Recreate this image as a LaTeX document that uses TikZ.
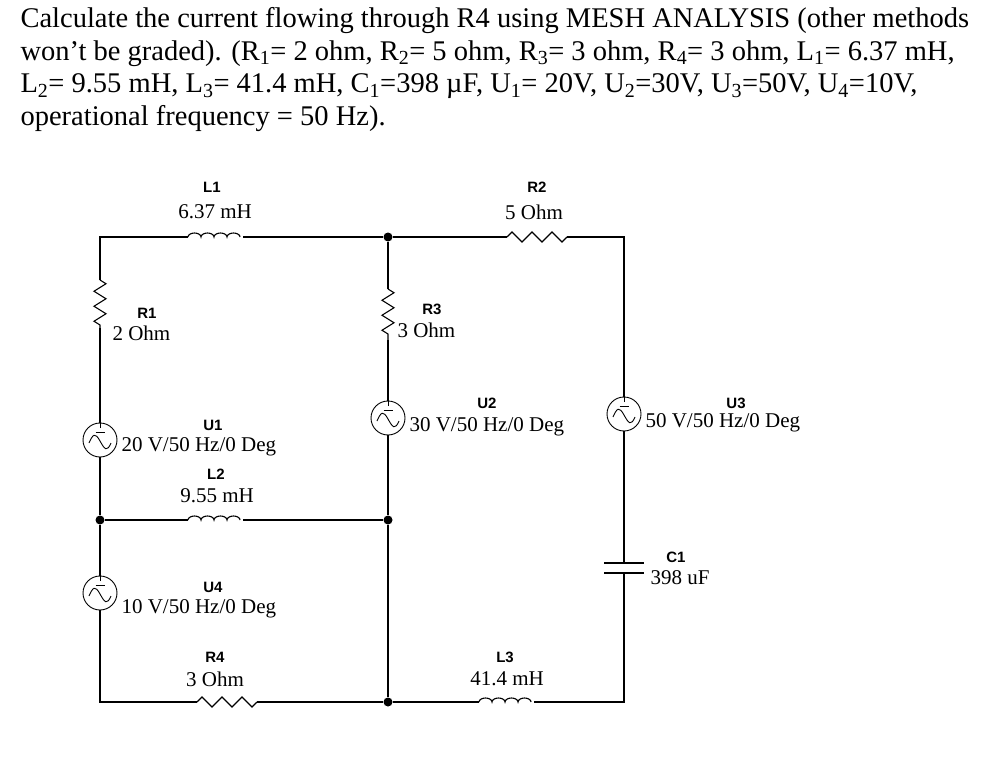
\documentclass[tikz,border=0pt]{standalone}
\usepackage{fontspec}
\setmainfont{Liberation Serif}
\newfontfamily\lab{Liberation Sans}
\usetikzlibrary{decorations.pathmorphing}
\begin{document}
\begin{tikzpicture}[x=1pt,y=-1pt,line width=1.1pt,
  lbl/.style={font=\lab\bfseries\fontsize{15}{17}\selectfont,inner sep=0},
  val/.style={font=\fontsize{21}{24}\selectfont,inner sep=0},
  src/.style={circle,draw,line width=0.9pt,minimum size=34pt,inner sep=0},
  dot/.style={circle,fill,minimum size=9pt,inner sep=0},
  res/.style={decorate,decoration={zigzag,segment length=15pt,amplitude=6pt}},
  hres/.style={decorate,decoration={zigzag,segment length=20pt,amplitude=5pt}}]
\useasboundingbox (0,0) rectangle (1007,781);
\node[anchor=north west,align=left,inner sep=0,font=\fontsize{28.5}{32.5}\selectfont] (title) at (20,7)
 {Calculate the current flowing through R4 using MESH ANALYSIS (other methods\\
 won't be graded). (R\textsubscript{1}= 2 ohm, R\textsubscript{2}= 5 ohm, R\textsubscript{3}= 3 ohm, R\textsubscript{4}= 3 ohm, L\textsubscript{1}= 6.37 mH,\\
 L\textsubscript{2}= 9.55 mH, L\textsubscript{3}= 41.4 mH, C\textsubscript{1}=398 µF, U\textsubscript{1}= 20V, U\textsubscript{2}=30V, U\textsubscript{3}=50V, U\textsubscript{4}=10V,\\
 operational frequency = 50 Hz).};
% corners and junctions
\coordinate (tl) at (100,237); \coordinate (tr) at (624,237);
\coordinate (bl) at (100,702); \coordinate (br) at (624,702);
\node[dot] (jt) at (388,237) {};
\node[dot] (jl) at (100,520) {};
\node[dot] (jm) at (388,520) {};
\node[dot] (jb) at (388,702) {};
% sources
\foreach \n/\x/\y in {U1/100/440,U4/100/593,U2/388/418,U3/624/414}{
  \node[src] (\n) at (\x,\y) {};
  \draw[line width=0.9pt] ([yshift=12pt]\n.center) -- +(0,-9) ([xshift=-4.5pt,yshift=7.5pt]\n.center) -- +(9,0);
  \draw[line width=0.9pt] ([xshift=-11pt,yshift=-3pt]\n.center) .. controls +(4,-9) and +(-5,-9) .. ([yshift=-1pt]\n.center)
     .. controls +(5,9) and +(-4,9) .. ([xshift=11pt,yshift=-3pt]\n.center);
}
% component endpoints
\coordinate (r1a) at (100,280); \coordinate (r1b) at (100,328);
\coordinate (r3a) at (388,289); \coordinate (r3b) at (388,340);
\coordinate (l1a) at (191,237); \coordinate (l1b) at (243,237);
\coordinate (r2a) at (507,237); \coordinate (r2b) at (567,237);
\coordinate (l2a) at (191,520); \coordinate (l2b) at (243,520);
\coordinate (r4a) at (197,702); \coordinate (r4b) at (257,702);
\coordinate (l3a) at (482,702); \coordinate (l3b) at (534,702);
\coordinate (c1a) at (624,563); \coordinate (c1b) at (624,573);
% resistors
\draw[res] (r1a) -- (r1b);
\draw[res] (r3a) -- (r3b);
\draw[hres] (r2a) -- (r2b);
\draw[hres] (r4a) -- (r4b);
% inductors
\foreach \a in {l1a,l2a,l3a}{
  \draw ([xshift=-3pt]\a) \foreach \i in {1,...,4}{ arc[start angle=180,end angle=360,x radius=6.5,y radius=4] };
}
% capacitor
\draw ([xshift=-20pt]c1a) -- ([xshift=20pt]c1a);
\draw ([xshift=-20pt]c1b) -- ([xshift=20pt]c1b);
% wires
\draw (r1a) -- (tl) -- ([xshift=-3pt]l1a) (l1b) -- (jt) -- (r2a) (r2b) -- (tr) -- (U3.north);
\draw (r1b) -- (U1.north) (U1.south) -- (jl) -- (U4.north) (U4.south) -- (bl) -- (r4a) (r4b) -- (jb) -- ([xshift=-3pt]l3a) (l3b) -- (br) -- (c1b);
\draw (U3.south) -- (c1a);
\draw (jl) -- ([xshift=-3pt]l2a) (l2b) -- (jm);
\draw (jt) -- (r3a) (r3b) -- (U2.north) (U2.south) -- (jm) -- (jb);
% labels
\node[lbl] (tL1) at (212,187) {L1}; \node[val] (vL1) at (215,212) {6.37 mH};
\node[lbl] (tR2) at (537,187) {R2}; \node[val] (vR2) at (534,212) {5 Ohm};
\node[lbl] (tR1) at (147,313) {R1}; \node[val,anchor=west] (vR1) at (112,333) {2 Ohm};
\node[lbl] (tR3) at (432,309) {R3}; \node[val,anchor=west] (vR3) at (397,330) {3 Ohm};
\node[lbl] (tU1) at (213,425) {U1}; \node[val,anchor=west] (vU1) at (121,447) {20 V/50 Hz/0 Deg};
\node[lbl] (tL2) at (216,474) {L2}; \node[val] (vL2) at (217,496) {9.55 mH};
\node[lbl] (tU2) at (487,403) {U2}; \node[val,anchor=west] (vU2) at (409,427) {30 V/50 Hz/0 Deg};
\node[lbl] (tU3) at (736,403) {U3}; \node[val,anchor=west] (vU3) at (645,423) {50 V/50 Hz/0 Deg};
\node[lbl] (tC1) at (676,557) {C1}; \node[val,anchor=west] (vC1) at (650,578) {398 uF};
\node[lbl] (tU4) at (213,587) {U4}; \node[val,anchor=west] (vU4) at (121,609) {10 V/50 Hz/0 Deg};
\node[lbl] (tR4) at (215,657) {R4}; \node[val] (vR4) at (215,679) {3 Ohm};
\node[lbl] (tL3) at (505,657) {L3}; \node[val] (vL3) at (507,679) {41.4 mH};
\end{tikzpicture}
\end{document}
